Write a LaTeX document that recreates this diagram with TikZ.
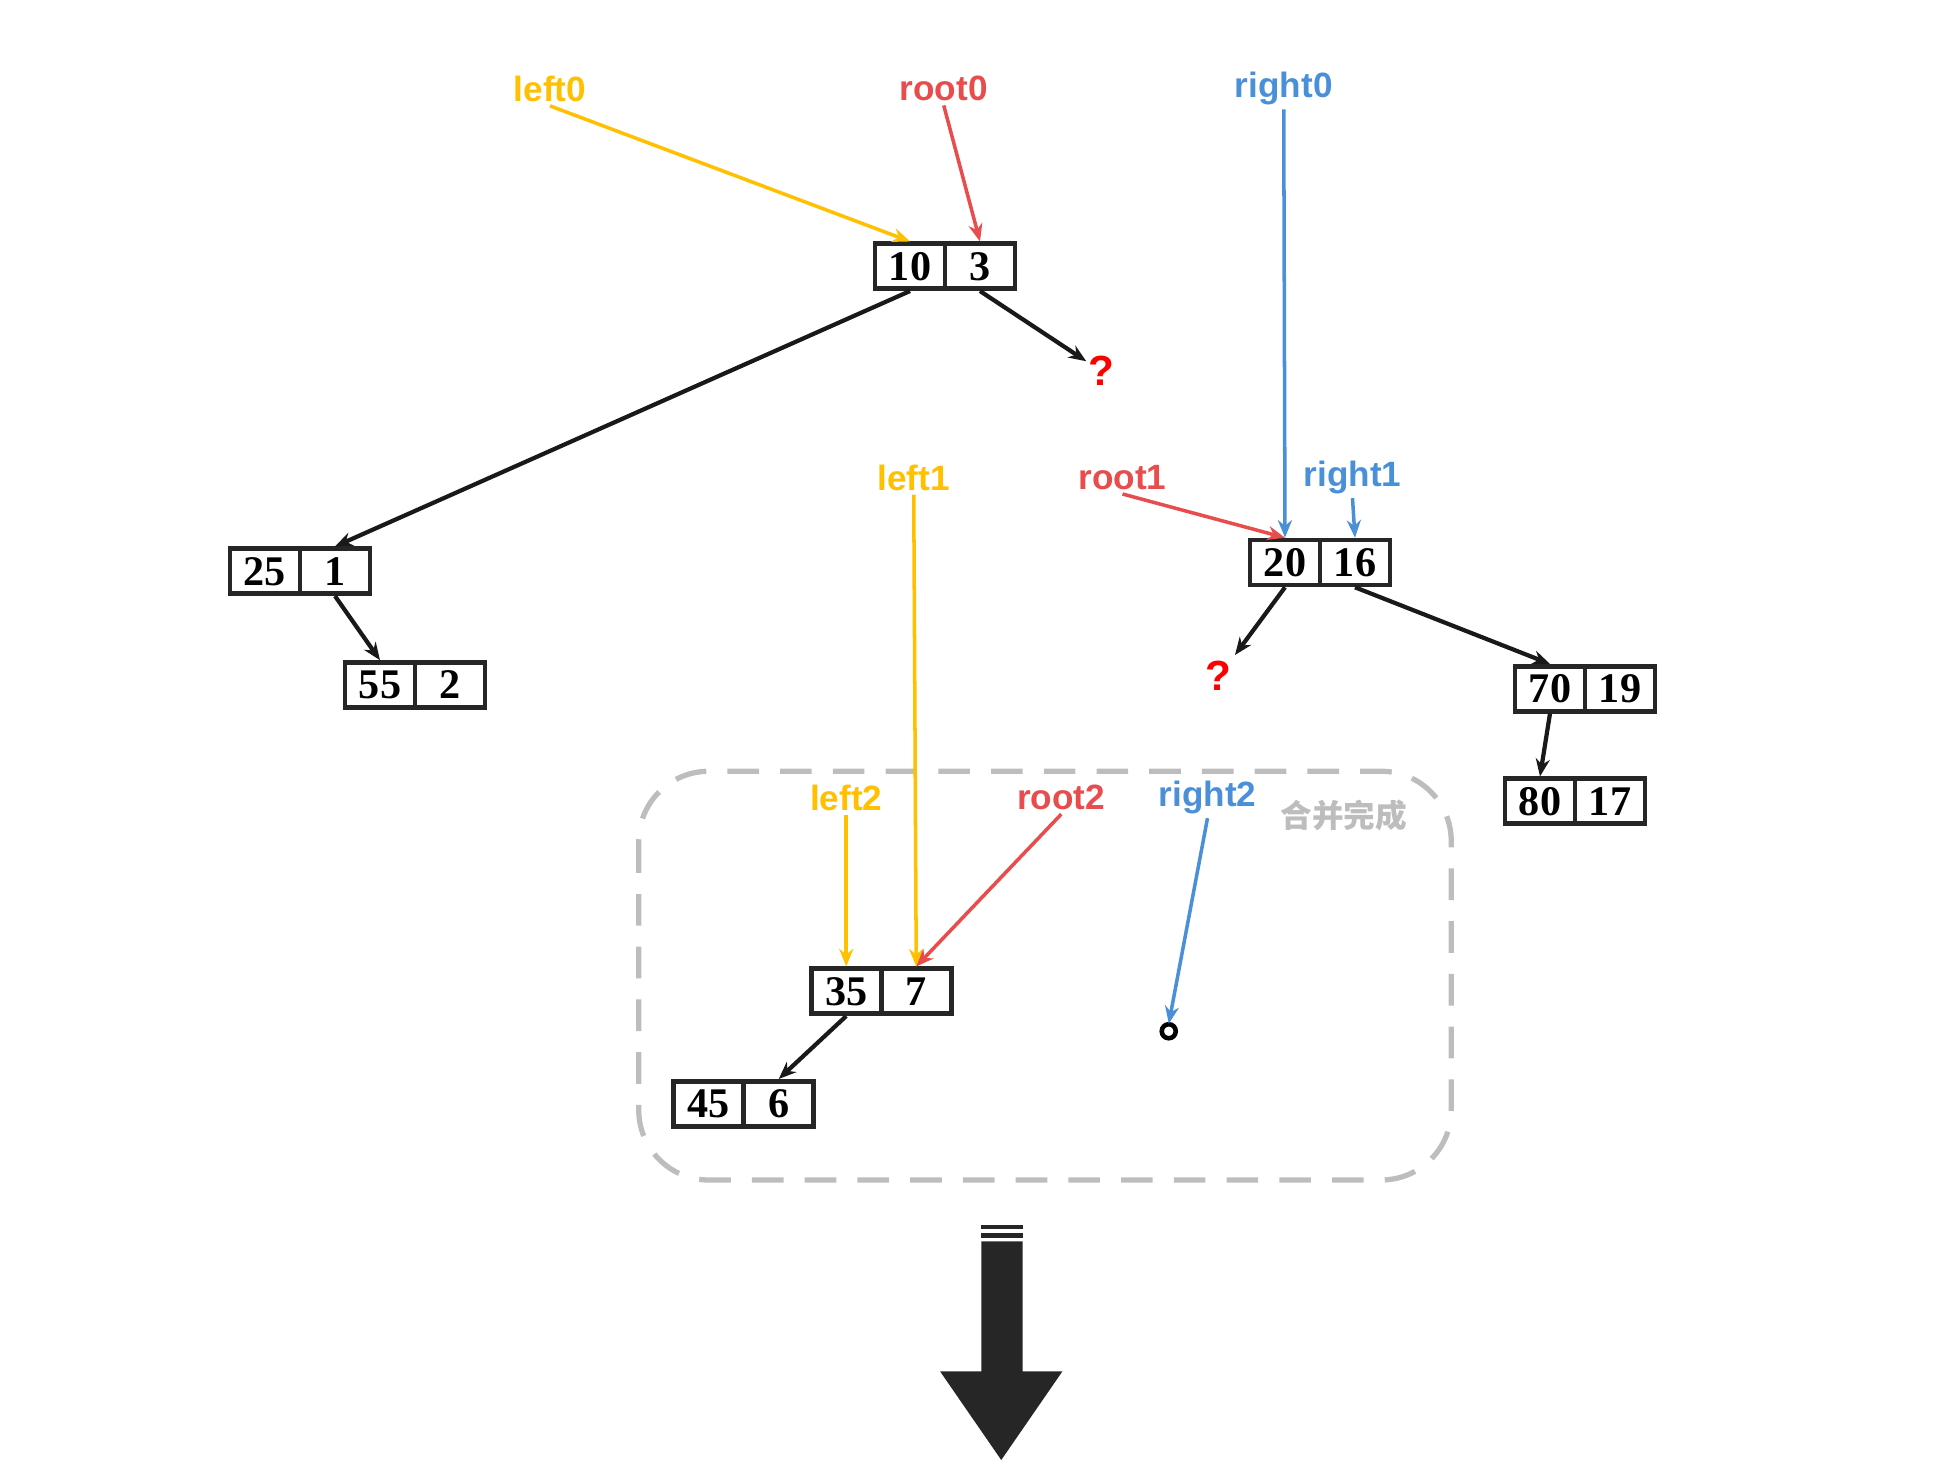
\documentclass[tikz,border=0pt]{standalone}
\usepackage{fontspec}
\newfontfamily\lab{Liberation Sans}
\newfontfamily\num{Liberation Serif}
\newfontfamily\cjk{Noto Sans CJK SC}
\usetikzlibrary{arrows.meta}
\definecolor{cyel}{HTML}{FFC000}
\definecolor{cred}{HTML}{E84C4C}
\definecolor{cblue}{HTML}{4A90D9}
\definecolor{cgray}{HTML}{BDBDBD}
\tikzset{
  cell/.style={draw=black!85, line width=1.3pt, minimum width=0.7cm, minimum height=0.45cm, inner sep=0pt, font=\num\bfseries\large},
  ptr/.style={font=\lab\bfseries, inner sep=1pt},
  edge/.style={draw=black!90, line width=1.2pt, -{Stealth[length=5pt,width=4pt]}},
  pedge/.style={line width=1pt, -{Stealth[length=5pt,width=4pt]}},
  qm/.style={text=red, font=\lab\bfseries\large}
}
\begin{document}
\begin{tikzpicture}[x=0.0125cm,y=-0.0125cm]
\useasboundingbox (0,0) rectangle (1568,1170);
% merged area
\draw[cgray, line width=1.5pt, dash pattern=on 9pt off 6pt, rounded corners=0.7cm] (511,617) rectangle (1161,944);
\node[text=cgray, font=\cjk\bfseries\small] (done) at (1075,652) {合并完成};
% cells
\node[cell] (c10) at (728,213) {10};
\node[cell] (c3) at (784,213) {3};
\node[cell] (c25) at (212,457) {25};
\node[cell] (c1) at (268,457) {1};
\node[cell] (c55) at (304,548) {55};
\node[cell] (c2) at (360,548) {2};
\node[cell] (c20) at (1028,450) {20};
\node[cell] (c16) at (1084,450) {16};
\node[cell] (c70) at (1240,551) {70};
\node[cell] (c19) at (1296,551) {19};
\node[cell] (c80) at (1232,641) {80};
\node[cell] (c17) at (1288,641) {17};
\node[cell] (c35) at (677,793) {35};
\node[cell] (c7) at (733,793) {7};
\node[cell] (c45) at (567,883) {45};
\node[cell] (c6) at (623,883) {6};
% unknowns
\node[qm] (q0) at (881,297) {?};
\node[qm] (q1) at (975,541) {?};
\coordinate (q0in) at (869,289);
\coordinate (q1in) at (988,524);
\draw[line width=1.3pt] (935,825) circle (0.07cm);
\coordinate (nil) at (935,819);
% pointer labels
\node[ptr, text=cyel] (left0) at (440,71) {left0};
\node[ptr, text=cred] (root0) at (755,71) {root0};
\node[ptr, text=cblue] (right0) at (1027,71) {right0};
\node[ptr, text=cyel] (left1) at (731,382) {left1};
\node[ptr, text=cred] (root1) at (898,382) {root1};
\node[ptr, text=cblue] (right1) at (1082,382) {right1};
\node[ptr, text=cyel] (left2) at (677,638) {left2};
\node[ptr, text=cred] (root2) at (849,638) {root2};
\node[ptr, text=cblue] (right2) at (966,638) {right2};
% tree edges
\draw[edge] (c10.south) -- (c1.north);
\draw[edge] (c3.south) -- (q0in);
\draw[edge] (c1.south) -- (c55.north);
\draw[edge] (c20.south) -- (q1in);
\draw[edge] (c16.south) -- (c70.north);
\draw[edge] (c70.south) -- (c80.north);
\draw[edge] (c35.south) -- (c6.north);
% pointers
\draw[pedge, cyel] (left0.south) -- (c10.north);
\draw[pedge, cred] (root0.south) -- (c3.north);
\draw[pedge, cblue] (right0.south) -- (c20.north);
\draw[pedge, cred] (root1.south) -- (c20.north);
\draw[pedge, cblue] (right1.south) -- (c16.north);
\draw[pedge, cyel] (left1.south) -- (c7.north);
\draw[pedge, cyel] (left2.south) -- (c35.north);
\draw[pedge, cred] (root2.south) -- (c7.north);
\draw[pedge, cblue] (right2.south) -- (nil);
% next step arrow
\fill[black!85] (785,980) rectangle (818,983);
\fill[black!85] (785,986) rectangle (818,990);
\fill[black!85] (785,993) rectangle (818,1097) -- (850,1097) -- (801,1168) -- (752,1097) -- (785,1097);
\end{tikzpicture}
\end{document}
